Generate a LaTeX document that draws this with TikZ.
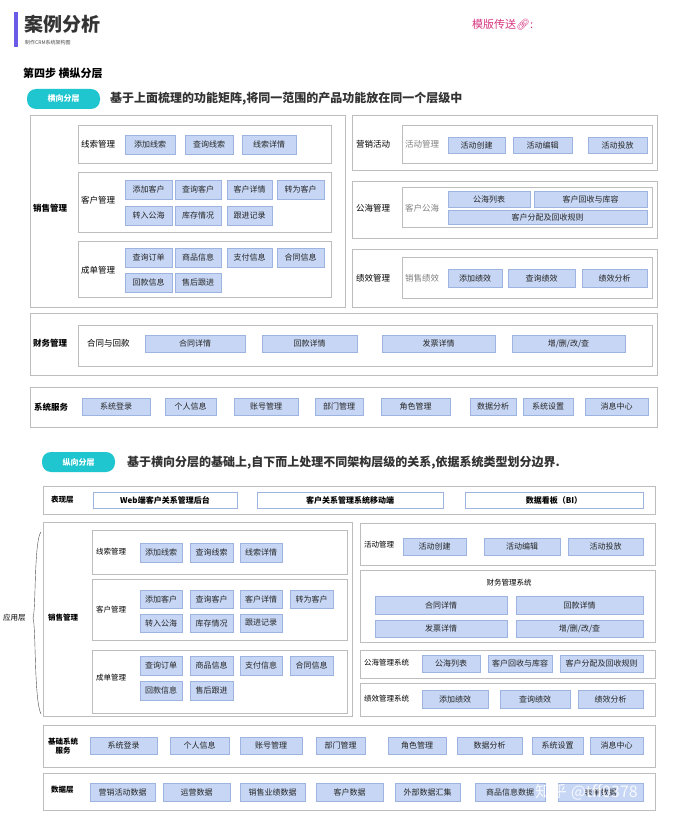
\documentclass[tikz,border=0pt]{standalone}
\usepackage{fontspec}
\setmainfont{Noto Sans CJK SC}
\newfontfamily\emj{Noto Emoji}
\definecolor{cellfill}{HTML}{C6D6F4}
\definecolor{celldraw}{HTML}{9DB4E0}
\definecolor{framec}{HTML}{BDBDBD}
\definecolor{teal}{HTML}{1FC6CF}
\definecolor{purp}{HTML}{6B5CE7}
\definecolor{pinkc}{HTML}{D6337F}
\tikzset{
 cell/.style={draw=celldraw,fill=cellfill,inner sep=0pt,font=\fontsize{8}{9}\selectfont,text=black!85},
 wcell/.style={draw=celldraw,fill=white,line width=0.8pt,inner sep=0pt,font=\fontsize{8}{9}\selectfont\bfseries},
 frame/.style={draw=framec,line width=0.8pt},
 lbl/.style={font=\fontsize{8.5}{10}\selectfont,anchor=west,inner sep=0pt},
 glbl/.style={lbl,text=gray},
 blbl/.style={lbl,font=\fontsize{8.5}{10}\selectfont\bfseries},
 pill/.style={fill=teal,rounded corners=9pt,text=white,font=\fontsize{8}{9}\selectfont\bfseries,inner sep=0pt},
}
\newcommand\cl[7][cell]{\node[#1,minimum width={#5pt-#4pt},minimum height={#7pt-#6pt}] (#2) at ({(#4+#5)/2},{(#6+#7)/2}) {#3};}
\newcommand\fr[4]{\draw[frame] (#1,#3) rectangle (#2,#4);}
\begin{document}
\begin{tikzpicture}[x=1pt,y=-1pt]
\useasboundingbox[fill=white] (0,0) rectangle (684,818);
% header
\fill[purp] (14,12) rectangle (18,47);
\node[anchor=west,inner sep=0pt,font=\fontsize{19}{20}\selectfont\bfseries,text=black!80] (title) at (24,24) {案例分析};
\node[anchor=west,inner sep=0pt,font=\fontsize{5}{6}\selectfont,text=black!70] (sub) at (25,43) {制作CRM系统架构图};
\node[anchor=west,inner sep=0pt,font=\fontsize{11}{12}\selectfont,text=pinkc] (tmpl) at (472,25) {模版传送{\emj 🔗}:};
\node[anchor=west,inner sep=0pt,font=\fontsize{11}{12}\selectfont\bfseries] (step4) at (23,73) {第四步 横纵分层};
\node[pill,minimum width=73pt,minimum height=20pt] (p1) at (63.5,99) {横向分层};
\node[anchor=west,inner sep=0pt,font=\fontsize{12}{13}\selectfont\bfseries,text=black!80] (d1) at (110,99) {基于上面梳理的功能矩阵,将同一范围的产品功能放在同一个层级中};
% sales
\fr{30}{345}{115}{307}
\node[blbl] (s0) at (33,208) {销售管理};
\fr{78}{331}{125}{163}
\node[lbl] (s1) at (81,144) {线索管理};
\cl{a1}{添加线索}{125}{175}{135}{154}
\cl{a2}{查询线索}{185}{233}{135}{154}
\cl{a3}{线索详情}{242}{296}{135}{154}
\fr{78}{331}{172}{232}
\node[lbl] (s2) at (81,200) {客户管理};
\cl{b1}{添加客户}{125}{172}{180}{199}
\cl{b2}{查询客户}{175}{221}{180}{199}
\cl{b3}{客户详情}{227}{272}{180}{199}
\cl{b4}{转为客户}{277}{324}{180}{199}
\cl{b5}{转入公海}{125}{172}{206}{225}
\cl{b6}{库存情况}{175}{221}{206}{225}
\cl{b7}{跟进记录}{227}{272}{206}{225}
\fr{78}{331}{241}{297}
\node[lbl] (s3) at (81,270) {成单管理};
\cl{c1}{查询订单}{125}{172}{248}{267}
\cl{c2}{商品信息}{175}{221}{248}{267}
\cl{c3}{支付信息}{227}{272}{248}{267}
\cl{c4}{合同信息}{277}{324}{248}{267}
\cl{c5}{回款信息}{125}{172}{273}{292}
\cl{c6}{售后跟进}{175}{221}{273}{292}
% right
\fr{352}{657}{115}{170}
\node[lbl] (m0) at (356,144) {营销活动};
\fr{402}{652}{125}{163}
\node[glbl] (m1) at (405,144) {活动管理};
\cl{m2}{活动创建}{448}{505}{137}{153}
\cl{m3}{活动编辑}{513}{572}{137}{153}
\cl{m4}{活动投放}{588}{647}{137}{153}
\fr{352}{657}{181}{238}
\node[lbl] (g0) at (356,208) {公海管理};
\fr{402}{652}{187}{227}
\node[glbl] (g1) at (405,208) {客户公海};
\cl{g2}{公海列表}{448}{530}{191}{207}
\cl{g3}{客户回收与库容}{534}{647}{191}{207}
\cl{g4}{客户分配及回收规则}{448}{647}{210}{224}
\fr{352}{657}{249}{307}
\node[lbl] (k0) at (356,278) {绩效管理};
\fr{402}{652}{257}{298}
\node[glbl] (k1) at (405,278) {销售绩效};
\cl{k2}{添加绩效}{448}{502}{269}{287}
\cl{k3}{查询绩效}{508}{575}{269}{287}
\cl{k4}{绩效分析}{582}{647}{269}{287}
% finance
\fr{30}{657}{313}{375}
\node[blbl] (f0) at (33,343) {财务管理};
\fr{78}{652}{325}{366}
\node[lbl] (f1) at (87,343) {合同与回款};
\cl{f2}{合同详情}{145}{245}{335}{352}
\cl{f3}{回款详情}{262}{357}{335}{352}
\cl{f4}{发票详情}{382}{495}{335}{352}
\cl{f5}{增/删/改/查}{512}{625}{335}{352}
% sys
\fr{30}{657}{387}{427}
\node[blbl] (y0) at (34,407) {系统服务};
\cl{y1}{系统登录}{82}{150}{398}{415}
\cl{y2}{个人信息}{165}{216}{398}{415}
\cl{y3}{账号管理}{234}{298}{398}{415}
\cl{y4}{部门管理}{315}{363}{398}{415}
\cl{y5}{角色管理}{381}{450}{398}{415}
\cl{y6}{数据分析}{470}{516}{398}{415}
\cl{y7}{系统设置}{523}{573}{398}{415}
\cl{y8}{消息中心}{585}{648}{398}{415}
% vertical
\node[pill,minimum width=73pt,minimum height=20pt] (p2) at (78.5,462) {纵向分层};
\node[anchor=west,inner sep=0pt,font=\fontsize{12}{13}\selectfont\bfseries,text=black!80] (d2) at (127,463) {基于横向分层的基础上,自下而上处理不同架构层级的关系,依据系统类型划分边界.};
\fr{43}{655}{486}{514}
\node[blbl,font=\fontsize{7.5}{9}\selectfont\bfseries] (v0) at (51,500) {表现层};
\cl[wcell]{v1}{Web端客户关系管理后台}{93}{237}{492}{508}
\cl[wcell]{v2}{客户关系管理系统移动端}{257}{443}{492}{508}
\cl[wcell]{v3}{数据看板（BI）}{465}{643}{492}{508}
\node[lbl,font=\fontsize{7.5}{9}\selectfont] (app) at (3,618) {应用层};
\draw[black!70] (41,532) .. controls (34,540) and (36,610) .. (33,618) .. controls (36,626) and (34,700) .. (41,714);
\fr{43}{352}{522}{716}
\node[blbl,font=\fontsize{7.5}{9}\selectfont\bfseries] (t0) at (48,618) {销售管理};
\fr{92}{347}{530}{574}
\node[lbl,font=\fontsize{7.5}{9}\selectfont] (t1) at (96,552) {线索管理};
\cl{ta1}{添加线索}{140}{182}{543}{562}
\cl{ta2}{查询线索}{190}{233}{543}{562}
\cl{ta3}{线索详情}{240}{282}{543}{562}
\fr{92}{347}{579}{640}
\node[lbl,font=\fontsize{7.5}{9}\selectfont] (t2) at (96,610) {客户管理};
\cl{tb1}{添加客户}{140}{182}{590}{608}
\cl{tb2}{查询客户}{190}{233}{590}{608}
\cl{tb3}{客户详情}{240}{282}{590}{608}
\cl{tb4}{转为客户}{290}{333}{590}{608}
\cl{tb5}{转入公海}{140}{182}{614}{632}
\cl{tb6}{库存情况}{190}{233}{614}{632}
\cl{tb7}{跟进记录}{240}{282}{614}{632}
\fr{92}{347}{650}{713}
\node[lbl,font=\fontsize{7.5}{9}\selectfont] (t3) at (96,678) {成单管理};
\cl{tc1}{查询订单}{140}{182}{656}{675}
\cl{tc2}{商品信息}{190}{233}{656}{675}
\cl{tc3}{支付信息}{240}{282}{656}{675}
\cl{tc4}{合同信息}{290}{333}{656}{675}
\cl{tc5}{回款信息}{140}{182}{681}{700}
\cl{tc6}{售后跟进}{190}{233}{681}{700}
\fr{360}{655}{523}{565}
\node[lbl,font=\fontsize{7.5}{9}\selectfont] (r0) at (364,545) {活动管理};
\cl{r1}{活动创建}{403}{466}{538}{555}
\cl{r2}{活动编辑}{484}{560}{538}{555}
\cl{r3}{活动投放}{568}{643}{538}{555}
\fr{360}{655}{570}{642}
\node[font=\fontsize{7.5}{9}\selectfont,inner sep=0pt] (h0) at (509,583) {财务管理系统};
\cl{h1}{合同详情}{375}{507}{596}{614}
\cl{h2}{回款详情}{516}{643}{596}{614}
\cl{h3}{发票详情}{375}{507}{620}{637}
\cl{h4}{增/删/改/查}{516}{643}{620}{637}
\fr{360}{655}{650}{678}
\node[lbl,font=\fontsize{7.5}{9}\selectfont] (o0) at (364,663) {公海管理系统};
\cl{o1}{公海列表}{422}{480}{655}{672}
\cl{o2}{客户回收与库容}{488}{552}{655}{672}
\cl{o3}{客户分配及回收规则}{560}{643}{655}{672}
\fr{360}{655}{683}{716}
\node[lbl,font=\fontsize{7.5}{9}\selectfont] (e0) at (364,699) {绩效管理系统};
\cl{e1}{添加绩效}{422}{488}{690}{708}
\cl{e2}{查询绩效}{500}{570}{690}{708}
\cl{e3}{绩效分析}{578}{643}{690}{708}
\fr{43}{655}{725}{767}
\node[blbl,font=\fontsize{7.5}{9}\selectfont\bfseries,align=center] (z0) at (48,746) {基础系统\\服务};
\cl{z1}{系统登录}{90}{157}{737}{754}
\cl{z2}{个人信息}{170}{229}{737}{754}
\cl{z3}{账号管理}{240}{302}{737}{754}
\cl{z4}{部门管理}{316}{365}{737}{754}
\cl{z5}{角色管理}{388}{446}{737}{754}
\cl{z6}{数据分析}{457}{522}{737}{754}
\cl{z7}{系统设置}{532}{583}{737}{754}
\cl{z8}{消息中心}{590}{643}{737}{754}
\fr{43}{655}{773}{810}
\node[blbl,font=\fontsize{7.5}{9}\selectfont\bfseries] (w0) at (51,790) {数据层};
\cl{w1}{营销活动数据}{90}{155}{783}{801}
\cl{w2}{运营数据}{163}{230}{783}{801}
\cl{w3}{销售业绩数据}{240}{305}{783}{801}
\cl{w4}{客户数据}{316}{383}{783}{801}
\cl{w5}{外部数据汇集}{395}{460}{783}{801}
\cl{w6}{商品信息数据}{475}{545}{783}{801}
\cl{w7}{表单数据}{558}{643}{783}{801}
\node[anchor=west,inner sep=0pt,font=\fontsize{16}{17}\selectfont,text=white,opacity=0.85] (wm) at (535,792) {知乎 @tff0378};
\end{tikzpicture}
\end{document}
